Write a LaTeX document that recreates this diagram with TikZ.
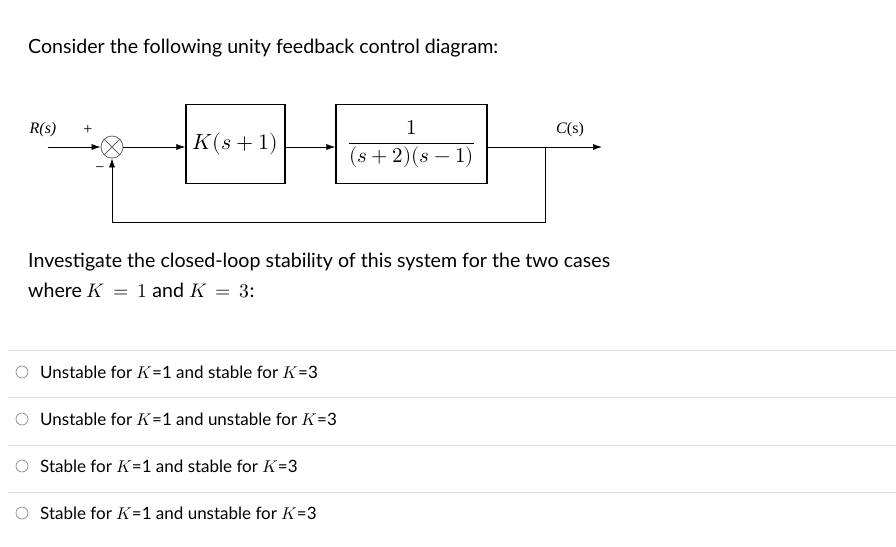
\documentclass[tikz,border=0pt]{standalone}
\usepackage{fontspec}
\setmainfont{Lato}
\newfontfamily\tms{Liberation Serif}
\usepackage{unicode-math}
\setmathfont{Latin Modern Math}
\usetikzlibrary{arrows.meta}
\begin{document}
\begin{tikzpicture}[x=1pt,y=-1pt,
  blk/.style={draw,line width=1.3pt,minimum width=99pt,minimum height=79pt,inner sep=0pt},
  sig/.style={-{Latex[length=9pt,width=6pt]},line width=0.7pt},
  txt/.style={anchor=west,inner sep=0pt,font=\fontsize{19.6}{22}\selectfont},
  opt/.style={anchor=west,inner sep=0pt,font=\fontsize{17}{19}\selectfont},
  rad/.style={draw=gray!90,circle,minimum size=12pt,inner sep=0pt,line width=0.7pt},
  sep/.style={draw=gray!25,line width=0.7pt}]
\useasboundingbox (0,0) rectangle (896,546);
\node[txt] (title) at (28,48) {Consider the following unity feedback control diagram:};
% diagram
\coordinate (in) at (48,147);
\node[draw=gray!80!black,circle,minimum size=22pt,inner sep=0pt,line width=0.8pt] (sum) at (112,147) {};
\draw[gray!80!black,line width=0.8pt] (sum.north west)--(sum.south east) (sum.north east)--(sum.south west);
\node[blk] (k) at (235.5,144) {\fontsize{22}{24}\selectfont$K(s+1)$};
\node[blk,minimum width=151pt] (g) at (411.5,144) {\fontsize{21}{24}\selectfont$\dfrac{1}{(s+2)(s-1)}$};
\coordinate (br) at (545,147);
\coordinate (out) at (602,147);
\coordinate (fb) at (545,222);
\coordinate (fb2) at (112,222);
\draw[sig] (in) -- (sum.west);
\draw[sig] (sum.east) -- (k.west|-sum);
\draw[sig] (k.east|-sum) -- (g.west|-sum);
\draw[sig] (g.east|-sum) -- (out);
\draw[sig] (br) -- (fb) -- (fb2) -- (sum.south);
\node[font=\fontsize{16}{18}\selectfont\tms\itshape] (rl) at (43,130) {R(s)};
\node[font=\fontsize{16}{18}\selectfont\tms] (pl) at (88,130) {+};
\node[font=\fontsize{16}{18}\selectfont\tms] (ml) at (100,170) {−};
\node[font=\fontsize{16}{18}\selectfont\tms] (cl) at (570,130) {\textit{C}(s)};
\node[txt] (q1) at (28,262) {Investigate the closed-loop stability of this system for the two cases};
\node[txt] (q2) at (28,290) {where $K\,=\,1$ and $K\,=\,3$:};
% options
\foreach \y in {350,397,445,492} \draw[sep] (8,\y) -- (896,\y);
\node[rad] (r1) at (22,372) {}; \node[opt] (o1) at (40,372) {Unstable for $K$=1 and stable for $K$=3};
\node[rad] (r2) at (22,419) {}; \node[opt] (o2) at (40,419) {Unstable for $K$=1 and unstable for $K$=3};
\node[rad] (r3) at (22,466) {}; \node[opt] (o3) at (40,466) {Stable for $K$=1 and stable for $K$=3};
\node[rad] (r4) at (22,513) {}; \node[opt] (o4) at (40,513) {Stable for $K$=1 and unstable for $K$=3};
\end{tikzpicture}
\end{document}
